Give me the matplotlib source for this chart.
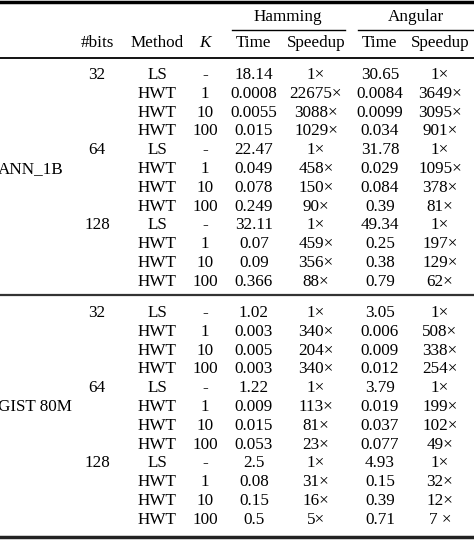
import matplotlib.pyplot as plt

# table data
groups = ["ANN_1B", "GIST 80M"]
bits = ["32", "", "", "", "64", "", "", "", "128", "", "", ""]
methods = ["LS", "HWT", "HWT", "HWT"] * 3
ks = ["-", "1", "10", "100"] * 3

ann_ham_time = ["18.14", "0.0008", "0.0055", "0.015", "22.47", "0.049", "0.078", "0.249",
                "32.11", "0.07", "0.09", "0.366"]
ann_ham_speed = ["1", "22675", "3088", "1029", "1", "458", "150", "90",
                 "1", "459", "356", "88"]
ann_ang_time = ["30.65", "0.0084", "0.0099", "0.034", "31.78", "0.029", "0.084", "0.39",
                "49.34", "0.25", "0.38", "0.79"]
ann_ang_speed = ["1", "3649", "3095", "901", "1", "1095", "378", "81",
                 "1", "197", "129", "62"]

gist_ham_time = ["1.02", "0.003", "0.005", "0.003", "1.22", "0.009", "0.015", "0.053",
                 "2.5", "0.08", "0.15", "0.5"]
gist_ham_speed = ["1", "340", "204", "340", "1", "113", "81", "23",
                  "1", "31", "16", "5"]
gist_ang_time = ["3.05", "0.006", "0.009", "0.012", "3.79", "0.019", "0.037", "0.077",
                 "4.93", "0.15", "0.39", "0.71"]
gist_ang_speed = ["1", "508", "338", "254", "1", "199", "102", "49",
                  "1", "32", "12", "7 "]

plt.rcParams['font.family'] = ['Liberation Serif', 'DejaVu Serif']
fs = 12.3

fig = plt.figure(figsize=(4.74, 5.40), dpi=100)
ax = fig.add_axes([0, 0, 1, 1])
ax.set_xlim(0, 474)
ax.set_ylim(540, 0)
ax.axis('off')

cols = [97, 157, 205, 254, 316, 380, 440]

# rules
ax.plot([0, 474], [2, 2], color='black', lw=2.5)
ax.plot([232, 345], [30, 30], color='black', lw=1)
ax.plot([358, 474], [30, 30], color='black', lw=1)
ax.plot([0, 474], [58, 58], color='black', lw=1.3)
ax.plot([0, 474], [295, 295], color='#333333', lw=1.6)
ax.plot([0, 474], [537, 537], color='#222222', lw=2.5)

ax.text(288, 17, "Hamming", ha='center', va='center', fontsize=fs)
ax.text(416, 17, "Angular", ha='center', va='center', fontsize=fs)
heads = ["#bits", "Method", "K", "Time", "Speedup", "Time", "Speedup"]
for x, h in zip(cols, heads):
    ax.text(x, 43, h, ha='center', va='center', fontsize=fs,
            style='italic' if h == "K" else 'normal')

step = 18.8
blocks = [(75, ann_ham_time, ann_ham_speed, ann_ang_time, ann_ang_speed),
          (313, gist_ham_time, gist_ham_speed, gist_ang_time, gist_ang_speed)]
for g, (y0, ht, hs, at, as_) in zip(groups, blocks):
    for i in range(12):
        y = y0 + i * step
        row = [bits[i], methods[i], ks[i], ht[i], hs[i] + "×", at[i], as_[i] + "×"]
        for x, t in zip(cols, row):
            ax.text(x, y, t, ha='center', va='center', fontsize=fs)
    ax.text(-2, y0 + 5 * step, g, ha='left', va='center', fontsize=fs)

fig.savefig("out.png", dpi=100)
